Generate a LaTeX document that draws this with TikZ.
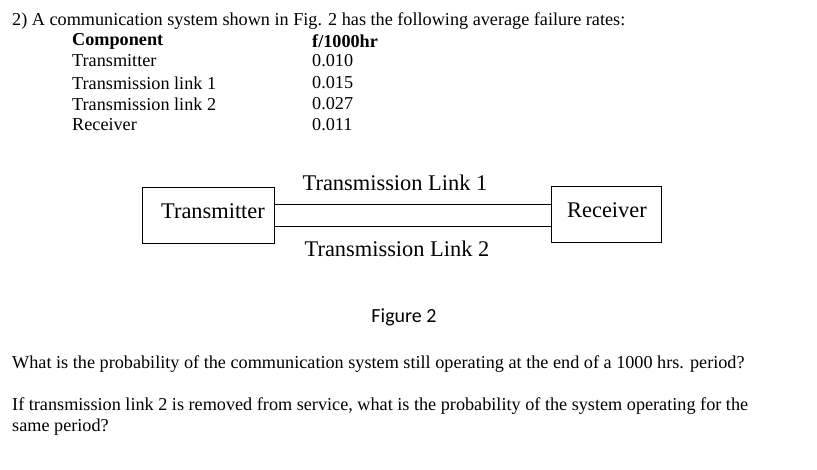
\documentclass[tikz,border=0pt]{standalone}
\usepackage{fontspec}
\setmainfont{Liberation Serif}
\newfontfamily\capfont{Carlito}
\begin{document}
\begin{tikzpicture}[x=1pt,y=-1pt,
  txt/.style={anchor=west,inner sep=0pt,font=\fontsize{18.2}{21}\selectfont},
  bt/.style={anchor=west,inner sep=0pt,font=\bfseries\fontsize{18.2}{21}\selectfont},
  dtxt/.style={inner sep=0pt,font=\fontsize{22.4}{26}\selectfont},
  blk/.style={draw,line width=1pt,minimum width=#1,minimum height=56pt,inner sep=0pt,font=\fontsize{22.4}{26}\selectfont}]
\useasboundingbox (0,0) rectangle (817,470);
\node[txt] (title) at (12,21) {2) A communication system shown in Fig. 2 has the following average failure rates:};
\node[bt] (h1) at (72,41) {Component};
\node[bt] (h2) at (312,41) {f/1000hr};
\node[txt] (c1) at (72,61) {Transmitter};
\node[txt] (v1) at (312,61) {0.010};
\node[txt] (c2) at (72,83) {Transmission link 1};
\node[txt] (v2) at (312,83) {0.015};
\node[txt] (c3) at (72,104) {Transmission link 2};
\node[txt] (v3) at (312,104) {0.027};
\node[txt] (c4) at (72,125) {Receiver};
\node[txt] (v4) at (312,125) {0.011};
\node[blk=132pt] (tx) at (208,216) {};
\node[blk=110pt] (rx) at (606,215) {};
\node[dtxt] (txl) at (213,211) {Transmitter};
\node[dtxt] (rxl) at (607,210) {Receiver};
\coordinate (a1) at (274,205); \coordinate (b1) at (551,205);
\coordinate (a2) at (274,227); \coordinate (b2) at (551,227);
\draw[line width=1pt] (a1) -- (b1);
\draw[line width=1pt] (a2) -- (b2);
\node[dtxt] (l1) at (395,183) {Transmission Link 1};
\node[dtxt] (l2) at (397,249) {Transmission Link 2};
\node[inner sep=0pt,font=\capfont\fontsize{20}{24}\selectfont] (fig) at (404,317) {Figure 2};
\node[txt] (q1) at (12,364) {What is the probability of the communication system still operating at the end of a 1000 hrs. period?};
\node[txt,text width=780pt,align=justify,font=\fontsize{18.2}{21}\selectfont,anchor=north west] (q2) at (12,397) {If transmission link 2 is removed from service, what is the probability of the system operating for the\\same period?};
\end{tikzpicture}
\end{document}
